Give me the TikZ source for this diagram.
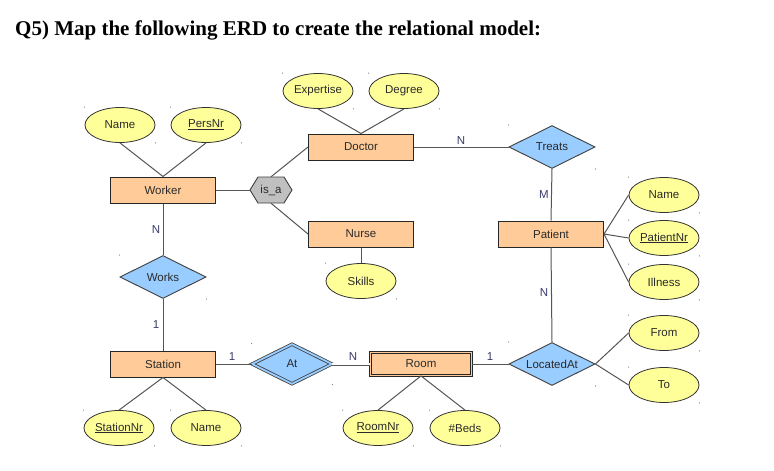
\documentclass[tikz,border=0pt]{standalone}
\usepackage{fontspec}
\setmainfont{Liberation Serif}
\newfontfamily\erfont{Liberation Sans}
\usetikzlibrary{shapes.geometric}
\definecolor{entfill}{HTML}{FFCC99}
\definecolor{attfill}{HTML}{FFFF99}
\definecolor{relfill}{HTML}{99CCFF}
\definecolor{isafill}{HTML}{C0C0C0}
\definecolor{linec}{HTML}{555555}
\definecolor{txtc}{HTML}{2A2A2A}
\definecolor{cardc}{HTML}{3A3A6A}
\begin{document}
\begin{tikzpicture}[x=1pt,y=-1pt,
  every node/.style={font=\erfont\fontsize{11.5}{13}\selectfont, text=txtc},
  entity/.style={rectangle, draw=black!85, line width=1pt, fill=entfill,
    minimum width=105pt, minimum height=26pt, inner sep=0pt},
  weakent/.style={rectangle, draw=black!85, line width=0.8pt, fill=entfill,
    double=entfill, double distance=1.8pt,
    minimum width=101pt, minimum height=23pt, inner sep=0pt},
  attr/.style={ellipse, draw=black!80, line width=0.8pt, fill=attfill,
    minimum width=70pt, minimum height=35pt, inner sep=0pt},
  rel/.style={diamond, aspect=2, draw=black!75, line width=0.9pt, fill=relfill,
    minimum width=86pt, minimum height=43pt, inner sep=0pt},
  weakrel/.style={diamond, aspect=2, draw=black!75, line width=0.8pt, fill=relfill,
    double=relfill, double distance=1.8pt,
    minimum width=80pt, minimum height=40pt, inner sep=0pt},
  conn/.style={draw=linec, line width=1pt},
  card/.style={text=cardc, inner sep=0pt},
  handle/.style={fill=black!55}
]
\useasboundingbox[fill=white] (0,0) rectangle (774,471);

\node[anchor=base west, inner sep=0pt, font=\rmfamily\bfseries\fontsize{21}{24}\selectfont, text=black]
  (title) at (15,35) {Q5) Map the following ERD to create the relational model:};

% hexagon for is_a
\draw[draw=black!75, line width=0.9pt, fill=isafill]
  (250,190) -- (258,177) -- (284,177) -- (292,190) -- (284,203) -- (258,203) -- cycle;

% entities
\node[entity] (worker) at (163,190) {Worker};
\node[entity] (doctor) at (361,147) {Doctor};
\node[entity] (nurse) at (361,234) {Nurse};
\node[entity] (patient) at (551,234) {Patient};
\node[entity] (station) at (163,364) {Station};
\node[weakent] (room) at (421,364) {Room};
\node[minimum width=42pt, minimum height=26pt, inner sep=0pt] (isa) at (271,190) {is\_a};

% attributes
\node[attr] (wname) at (120,125) {Name};
\node[attr] (persnr) at (206,125) {\underline{PersNr}};
\node[attr] (expertise) at (318,91) {Expertise};
\node[attr] (degree) at (404,91) {Degree};
\node[attr] (skills) at (361,281) {Skills};
\node[attr] (pname) at (664,195) {Name};
\node[attr] (patientnr) at (664,238) {\underline{PatientNr}};
\node[attr] (illness) at (664,282) {Illness};
\node[attr] (from) at (664,333) {From};
\node[attr] (to) at (664,385) {To};
\node[attr] (stationnr) at (119,428) {\underline{StationNr}};
\node[attr] (sname) at (206,428) {Name};
\node[attr] (roomnr) at (378,428) {\underline{RoomNr}};
\node[attr] (beds) at (465,428) {\#Beds};

% relationships
\node[rel] (treats) at (552,147) {Treats};
\node[rel] (works) at (163,277) {Works};
\node[weakrel] (at) at (292,364) {At};
\node[rel] (loc) at (552,364) {LocatedAt};

% connectors
\draw[conn] (wname.south) -- (worker.north);
\draw[conn] (persnr.south) -- (worker.north);
\draw[conn] (expertise.south) -- (doctor.north);
\draw[conn] (degree.south) -- (doctor.north);
\draw[conn] (worker.east) -- (isa.west);
\draw[conn] (isa.north) -- (doctor.west);
\draw[conn] (isa.south) -- (nurse.west);
\draw[conn] (nurse.south) -- (skills.north);
\draw[conn] (doctor.east) -- (treats.west);
\draw[conn] (treats.south) -- (patient.north);
\draw[conn] (patient.east) -- (pname.west);
\draw[conn] (patient.east) -- (patientnr.west);
\draw[conn] (patient.east) -- (illness.west);
\draw[conn] (patient.south) -- (loc.north);
\draw[conn] (loc.east) -- (from.west);
\draw[conn] (loc.east) -- (to.west);
\draw[conn] (worker.south) -- (works.north);
\draw[conn] (works.south) -- (station.north);
\draw[conn] (station.east) -- (at.west);
\draw[draw=linec, line width=0.7pt, double=white, double distance=1.6pt] (at.east) -- (room.west);
\draw[conn] (room.east) -- (loc.west);
\draw[conn] (station.south) -- (stationnr.north);
\draw[conn] (station.south) -- (sname.north);
\draw[conn] (room.south) -- (roomnr.north);
\draw[conn] (room.south) -- (beds.north);

% cardinalities
\node[card] (c1) at (156,230) {N};
\node[card] (c2) at (156,325) {1};
\node[card] (c3) at (232,357) {1};
\node[card] (c4) at (353,357) {N};
\node[card] (c5) at (490,357) {1};
\node[card] (c6) at (461,141) {N};
\node[card] (c7) at (544,195) {M};
\node[card] (c8) at (544,293) {N};

% selection handle dots
\foreach \n in {wname,persnr,expertise,degree,skills,pname,patientnr,illness,from,to,stationnr,sname,roomnr,beds,treats,works,at,loc}{
  \fill[handle] (\n.west |- \n.north) circle (0.6pt);
  \fill[handle] (\n.east |- \n.south) circle (0.6pt);
}
\end{tikzpicture}
\end{document}
